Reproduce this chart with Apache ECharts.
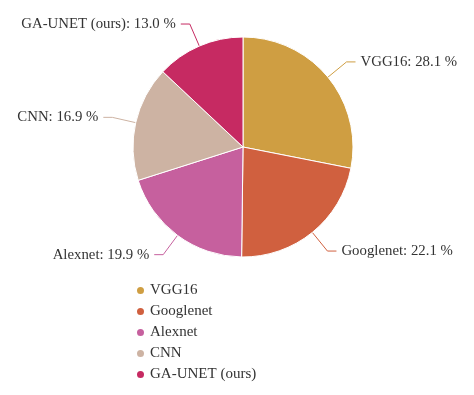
<!DOCTYPE html>
<html><head><meta charset="utf-8">
<script src="https://cdn.jsdelivr.net/npm/echarts@6/dist/echarts.min.js"></script>
<style>html,body{margin:0;padding:0;background:#fff}#c{width:474px;height:395px}</style>
</head><body><div id="c"></div>
<script>
const categories = ['VGG16', 'Googlenet', 'Alexnet', 'CNN', 'GA-UNET (ours)'];
const values = [28.1, 22.1, 19.9, 16.9, 13.0];
const colors = ['#CF9E42', '#D0603F', '#C6609E', '#CDB3A3', '#C62A62'];
const font = '"Liberation Serif", "DejaVu Serif", serif';
const chart = echarts.init(document.getElementById('c'), null, {renderer: 'canvas'});
chart.setOption({
  animation: false,
  color: colors,
  legend: {
    orient: 'vertical', left: 130, top: 278, height: 117,
    icon: 'circle', itemWidth: 9, itemHeight: 9, itemGap: 6,
    textStyle: {fontFamily: font, fontSize: 15, color: '#333'},
    data: categories
  },
  series: [{
    type: 'pie',
    center: [243, 147], radius: 110,
    startAngle: 90, clockwise: true,
    itemStyle: {borderColor: '#fff', borderWidth: 1},
    label: {
      show: true, fontFamily: font, fontSize: 14.8, color: '#333',
      distanceToLabelLine: 5,
      formatter: p => p.name + ': ' + p.value.toFixed(1) + ' %'
    },
    labelLine: {show: true, length: 24, length2: 9, lineStyle: {width: 1}},
    data: categories.map((c, i) => ({name: c, value: values[i]}))
  }]
});
</script></body></html>
